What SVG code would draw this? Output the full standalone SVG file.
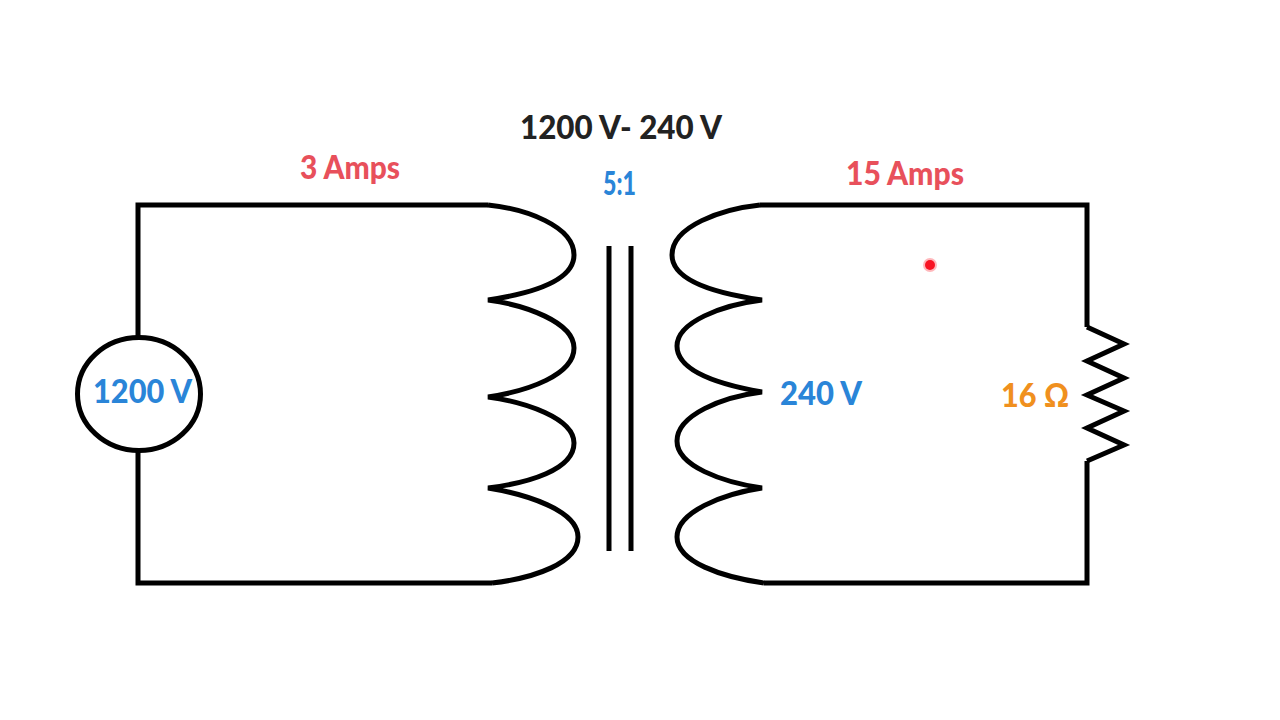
<svg xmlns="http://www.w3.org/2000/svg" width="1280" height="720" viewBox="0 0 1280 720">
<style>
.w{fill:none;stroke:#000;stroke-width:5;stroke-linejoin:miter}
text{font-family:"Lato","Liberation Sans",sans-serif;font-weight:900;font-size:33px;text-anchor:middle}
.r{fill:#e8505b}.b{fill:#2a85d8}.k{fill:#222}.o{fill:#f0901e}
</style>
<rect width="1280" height="720" fill="#fff"/>
<g id="connectors">
<path class="w" d="M138 337V205H488"/>
<path class="w" d="M138 451V583H492"/>
<path class="w" d="M760 205H1087V327"/>
<path class="w" d="M764 583H1087V461"/>
</g>
<g id="source"><ellipse class="w" cx="139" cy="394" rx="61.500" ry="56.500"/><text class="b" x="142.500" y="403" textLength="99" lengthAdjust="spacingAndGlyphs">1200 V</text></g>
<g id="primary"><path class="w" d="M488 205C526 209 574 226 574 255C574 282 528 294 488 300C525 305 574 322 574 348C574 375 528 391 488 397C525 402 574 418 574 443C574 470 528 483 488 488C525 494 578 510 578 537C578 563 535 578 492 583"/></g>
<g id="core"><path class="w" d="M609 246V551M631 246V551"/></g>
<g id="secondary"><path class="w" d="M760 205C722 209 672 226 672 255C672 282 720 294 762 300C722 305 677 322 677 346C677 372 722 385 762 392C722 397 677 415 677 441C677 466 722 482 762 488C722 494 677 512 677 537C677 562 722 577 764 583"/></g>
<g id="resistor"><path class="w" d="M1087 327L1124 344L1087 361L1124 378L1087 395L1124 411L1087 428L1124 445L1087 461"/><text class="o" x="1035" y="407" textLength="68" lengthAdjust="spacingAndGlyphs">16 Ω</text></g>
<g id="labels">
<text class="k" x="621" y="139" textLength="202" lengthAdjust="spacingAndGlyphs">1200 V- 240 V</text>
<text class="b" x="619.500" y="195" textLength="33" lengthAdjust="spacingAndGlyphs">5:1</text>
<text class="r" x="350" y="179" textLength="100" lengthAdjust="spacingAndGlyphs">3 Amps</text>
<text class="r" x="905" y="185" textLength="118" lengthAdjust="spacingAndGlyphs">15 Amps</text>
<text class="b" x="821" y="405" textLength="82" lengthAdjust="spacingAndGlyphs">240 V</text>
</g>
<g id="pointer"><circle cx="930" cy="265" r="7" fill="#ffb8bc"/><circle cx="930" cy="265" r="5" fill="#f81424"/></g>
</svg>
